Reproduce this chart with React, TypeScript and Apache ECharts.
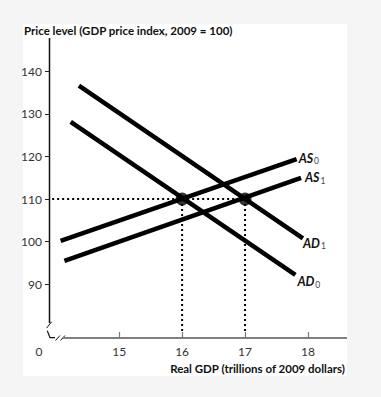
import React, { useEffect, useRef } from "react";
import * as echarts from "echarts";

const xTicks = [15, 16, 17, 18];
const yTicks = [90, 100, 110, 120, 130, 140];
const AD0 = [[14.23, 128.1], [17.8, 92.2]];
const AD1 = [[14.36, 136.6], [17.92, 100.8]];
const AS0 = [[14.07, 100.2], [17.82, 119.4]];
const AS1 = [[14.13, 95.5], [17.89, 115.0]];
const eqX = [16, 17];
const eqP = [110, 110];
const curveNames = ["AD0", "AD1", "AS0", "AS1"];

const xMin = 13.885, xMax = 18.62, yMin = 77.4, yMax = 147.8;
const FONT = "Lato, 'Open Sans', sans-serif";

export default function App() {
  const ref = useRef<HTMLDivElement>(null);
  useEffect(() => {
    const chart = echarts.init(ref.current!, null, { renderer: "svg" });
    const curves = [AD0, AD1, AS0, AS1];
    const offsets = [[0, 7], [-2, 5], [0, -1], [2, 0]];
    const lineSeries = curves.map((d, i) => ({
      type: "line",
      name: curveNames[i],
      data: d,
      showSymbol: false,
      symbol: "none",
      lineStyle: { color: "#000", width: 4.5, cap: "butt" },
      endLabel: {
        show: true,
        distance: 2,
        offset: offsets[i],
        formatter: `{b|${curveNames[i].slice(0, 2)}}{s|${curveNames[i].slice(2)}}`,
        rich: {
          b: { fontFamily: FONT, fontWeight: "bold", fontStyle: "italic", fontSize: 12.5, color: "#111" },
          s: { fontFamily: FONT, fontSize: 8.5, color: "#444", verticalAlign: "bottom", padding: [6, 0, 0, 1] },
        },
      },
      silent: true,
      z: 3,
    }));
    const dotStyle = { color: "#000", width: 2, type: [2, 3] as any };
    const dotted = [
      { type: "line", data: [[xMin + 0.05, eqP[1]], [eqX[1], eqP[1]]], symbol: "none", lineStyle: dotStyle, z: 2 },
      ...eqX.map((x, i) => ({
        type: "line",
        data: [[x, eqP[i]], [x, yMin + 1.2]],
        symbol: "none",
        lineStyle: dotStyle,
        z: 2,
      })),
    ];
    chart.setOption({
      animation: false,
      grid: { left: 49, top: 38, width: 298, height: 300 },
      xAxis: {
        type: "value",
        min: xMin,
        max: xMax,
        axisLine: { show: false },
        splitLine: { show: false },
        axisTick: { show: true, inside: true, length: 6, customValues: xTicks, lineStyle: { color: "#777", width: 1.2 } },
        axisLabel: { customValues: xTicks, margin: 7, color: "#333", fontFamily: FONT, fontSize: 12 },
      },
      yAxis: {
        type: "value",
        min: yMin,
        max: yMax,
        axisLine: { show: false },
        splitLine: { show: false },
        axisTick: { show: true, length: 4, customValues: yTicks, lineStyle: { color: "#222", width: 1 } },
        axisLabel: { customValues: yTicks, margin: 7, color: "#333", fontFamily: FONT, fontSize: 12 },
      },
      graphic: [
        { type: "rect", shape: { x: 23, y: 24, width: 324, height: 352 }, style: { fill: "#fff" }, z: -10 },
        { type: "line", shape: { x1: 49.5, y1: 38, x2: 49.5, y2: 323 }, style: { stroke: "#111", lineWidth: 1.5 } },
        { type: "line", shape: { x1: 46.7, y1: 328, x2: 51.7, y2: 321.7 }, style: { stroke: "#111", lineWidth: 1 } },
        { type: "polyline", shape: { points: [[47.3, 330.7], [50, 337.7], [55, 337.7]] }, style: { stroke: "#111", lineWidth: 1.2, fill: null } },
        { type: "line", shape: { x1: 55.5, y1: 340.5, x2: 60, y2: 335.5 }, style: { stroke: "#111", lineWidth: 1 } },
        { type: "line", shape: { x1: 60.5, y1: 340.5, x2: 65, y2: 335.5 }, style: { stroke: "#111", lineWidth: 1 } },
        { type: "line", shape: { x1: 63, y1: 338, x2: 347, y2: 338 }, style: { stroke: "#808080", lineWidth: 2.2 } },
        {
          type: "text", x: 24, y: 24,
          style: { text: "Price level (GDP price index, 2009 = 100)", fontFamily: FONT, fontWeight: "bold", fontSize: 11.5, fill: "#111", textVerticalAlign: "top" },
        },
        {
          type: "text", x: 345, y: 368,
          style: { text: "Real GDP (trillions of 2009 dollars)", fontFamily: FONT, fontWeight: "bold", fontSize: 11.5, fill: "#111", textAlign: "right", textVerticalAlign: "middle" },
        },
        {
          type: "text", x: 39, y: 351,
          style: { text: "0", fontFamily: FONT, fontSize: 12, fill: "#333", textAlign: "center", textVerticalAlign: "middle" },
        },
      ],
      series: [
        ...dotted,
        ...lineSeries,
        {
          type: "scatter",
          data: eqX.map((x, i) => [x, eqP[i]]),
          symbolSize: 13,
          itemStyle: { color: "#000" },
          z: 5,
        },
      ],
    });
    return () => chart.dispose();
  }, []);
  return (
    <div
      ref={ref}
      style={{ position: "fixed", left: 0, top: 0, width: 381, height: 397, background: "#f5f5f5" }}
    />
  );
}
